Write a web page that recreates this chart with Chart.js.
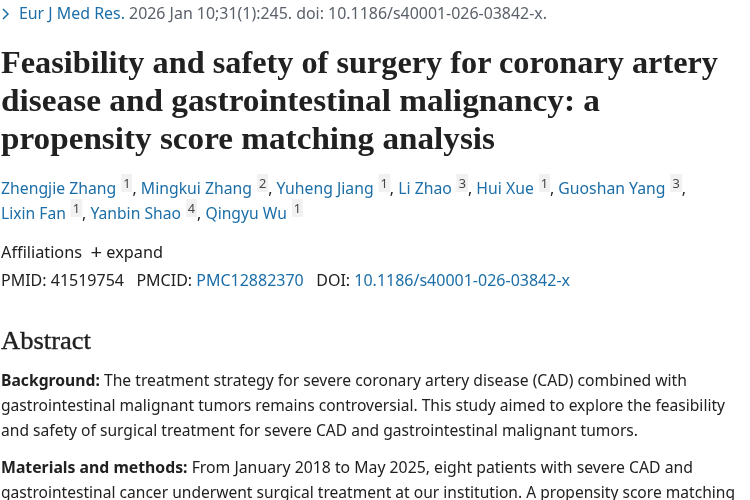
<!DOCTYPE html>
<html><head><meta charset="utf-8">
<script src="https://cdn.jsdelivr.net/npm/chart.js@4"></script>
<style>
html,body{margin:0;padding:0;background:#fff;width:750px;height:500px;overflow:hidden}
#c{position:absolute;left:0;top:0;width:750px;height:500px}
#page{position:absolute;left:0;top:0;width:750px;height:500px;font-family:"Noto Sans","Open Sans",sans-serif;font-size:16px;color:#212121}
.l{position:absolute;white-space:nowrap;transform-origin:0 0;line-height:1}
a{color:#1b6ea8;text-decoration:none}
.t{font-family:"Liberation Serif",serif;font-weight:700;color:#212121;font-size:32px}
.h{font-family:"Liberation Serif",serif;font-size:25px;color:#212121;-webkit-text-stroke:.35px #212121}
sup{font-size:13px;color:#444;background:#f1f1f1;padding:0 2px;margin:0 0 0 5px;vertical-align:6px;line-height:0}
.g{color:#5b616b}
</style></head><body>
<canvas id="c" width="750" height="500"></canvas>
<div id="page"></div>
<script>
// The reference has no plotted data: these arrays hold its text only.
const categories = [];
const seriesValues = [];
const citation = '<svg width="9" height="12" style="margin-right:9px;vertical-align:-1px"><path d="M2 1l5 5-5 5" fill="none" stroke="#1b6ea8" stroke-width="1.5"/></svg><a>Eur J Med Res.</a> <span class="g">2026 Jan 10;31(1):245. doi: 10.1186/s40001-026-03842-x.</span>';
const titleLines = ['Feasibility and safety of surgery for coronary artery','disease and gastrointestinal malignancy: a','propensity score matching analysis'];
const authors1 = '<a>Zhengjie Zhang</a><sup>1</sup>, <a>Mingkui Zhang</a><sup>2</sup>, <a>Yuheng Jiang</a><sup>1</sup>, <a>Li Zhao</a><sup>3</sup>, <a>Hui Xue</a><sup>1</sup>, <a>Guoshan Yang</a><sup>3</sup>,';
const authors2 = '<a>Lixin Fan</a><sup>1</sup>, <a>Yanbin Shao</a><sup>4</sup>, <a>Qingyu Wu</a><sup>1</sup>';
const affil = 'Affiliations&nbsp; <span style="font-size:20px;line-height:0;vertical-align:-1px">+</span> expand';
const ids = 'PMID: 41519754 &nbsp;&nbsp;PMCID: <a>PMC12882370</a> &nbsp;&nbsp;DOI: <a>10.1186/s40001-026-03842-x</a>';
const abstractLines = ['<b>Background:</b> The treatment strategy for severe coronary artery disease (CAD) combined with',
 'gastrointestinal malignant tumors remains controversial. This study aimed to explore the feasibility',
 'and safety of surgical treatment for severe CAD and gastrointestinal malignant tumors.',
 '<b>Materials and methods:</b> From January 2018 to May 2025, eight patients with severe CAD and',
 'gastrointestinal cancer underwent surgical treatment at our institution. A propensity score matching'];

// [html, class, top, target width]
const rows = [
 [citation,'',5,546],
 [titleLines[0],'t',46,717],[titleLines[1],'t',84,599],[titleLines[2],'t',122,494],
 [authors1,'',180,685],[authors2,'',205,302],
 [affil,'',244,162],[ids,'',272,569],
 ['Abstract','h',328,90],
 [abstractLines[0],'',372,686],[abstractLines[1],'',397,724],[abstractLines[2],'',422,637],
 [abstractLines[3],'',459,692],[abstractLines[4],'',484,734]
];
const page = document.getElementById('page');
rows.forEach(([html,cls,top,w])=>{
  const d=document.createElement('div');
  d.className='l '+cls; d.innerHTML=html; d.style.left='1px'; d.style.top=top+'px';
  page.appendChild(d);
  d.style.transform='scaleX('+(w/d.getBoundingClientRect().width)+')';
});
new Chart(document.getElementById('c'),{type:'bar',data:{labels:categories,datasets:[{data:seriesValues}]},
 options:{responsive:false,animation:false,plugins:{legend:{display:false},tooltip:{enabled:false}},scales:{x:{display:false},y:{display:false}}}});
</script></body></html>
